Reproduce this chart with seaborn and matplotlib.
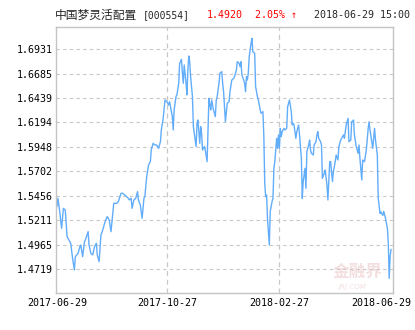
import datetime as dt

import matplotlib.dates as mdates
import matplotlib.pyplot as plt
import pandas as pd
import seaborn as sns
from matplotlib.transforms import ScaledTranslation


# fund NAV: days after 2017-06-29 and the value on that day
start_date = "2017-06-29"
day_offsets = [
    0, 1, 3, 5, 7, 9, 11, 13, 15, 17, 19, 20, 23, 25, 26, 28, 30, 31, 34, 35,
    37, 39, 41, 43, 44, 46, 48, 50, 52, 54, 55, 57, 59, 62, 65, 67, 70, 72, 74, 76,
    78, 79, 81, 82, 84, 86, 88, 89, 91, 93, 95, 96, 98, 100, 102, 103, 105, 107, 109, 111,
    113, 114, 116, 118, 120, 122, 123, 124, 126, 127, 128, 130, 131, 133, 134, 136, 137, 138, 139, 141,
    142, 143, 144, 145, 146, 148, 149, 151, 152, 153, 154, 156, 157, 158, 159, 161, 162, 164, 165, 166,
    167, 168, 169, 171, 173, 174, 175, 177, 178, 180, 181, 182, 183, 184, 186, 188, 189, 191, 193, 194,
    196, 197, 199, 200, 201, 202, 204, 205, 206, 207, 208, 209, 210, 212, 213, 214, 216, 217, 219, 220,
    222, 223, 225, 226, 227, 228, 229, 230, 232, 233, 235, 236, 237, 238, 240, 241, 242, 243, 244, 245,
    246, 248, 249, 251, 252, 254, 256, 257, 258, 259, 261, 262, 264, 265, 267, 268, 269, 271, 272, 273,
    275, 276, 277, 278, 280, 281, 283, 284, 285, 286, 288, 289, 290, 292, 293, 295, 296, 298, 299, 301,
    302, 304, 305, 307, 308, 310, 311, 313, 314, 316, 318, 319, 321, 322, 324, 325, 327, 329, 330, 331,
    333, 334, 336, 338, 340, 341, 342, 344, 345, 347, 348, 350, 351, 353, 354, 356, 357, 359, 361, 362,
    363, 364, 365,
]
nav = [
    1.5348, 1.5432, 1.5298, 1.5130, 1.5331, 1.5314, 1.5047, 1.5013, 1.4980, 1.4829,
    1.4712, 1.4846, 1.4879, 1.4946, 1.4963, 1.4846, 1.4996, 1.5013, 1.5097, 1.4963,
    1.4879, 1.4863, 1.4946, 1.4980, 1.4863, 1.4796, 1.5063, 1.5114, 1.5181, 1.5231,
    1.5248, 1.5214, 1.5097, 1.5381, 1.5381, 1.5398, 1.5482, 1.5482, 1.5465, 1.5448,
    1.5432, 1.5415, 1.5432, 1.5331, 1.5415, 1.5432, 1.5499, 1.5415, 1.5365, 1.5231,
    1.5432, 1.5448, 1.5649, 1.5766, 1.5800, 1.5917, 1.5984, 1.5967, 1.5967, 1.5934,
    1.6000, 1.6118, 1.6235, 1.6419, 1.6402, 1.6369, 1.6402, 1.6352, 1.6252, 1.6118,
    1.6319, 1.6453, 1.6470, 1.6587, 1.6787, 1.6827, 1.6687, 1.6587, 1.6770, 1.6587,
    1.6470, 1.6720, 1.6861, 1.6804, 1.6653, 1.6453, 1.6152, 1.6018, 1.5951, 1.6185,
    1.6219, 1.5984, 1.6152, 1.6085, 1.5917, 1.5951, 1.5917, 1.5800, 1.6118, 1.6436,
    1.6369, 1.6319, 1.6419, 1.6319, 1.6252, 1.6419, 1.6453, 1.6587, 1.6687, 1.6704,
    1.6587, 1.6503, 1.6352, 1.6202, 1.6386, 1.6402, 1.6503, 1.6620, 1.6637, 1.6653,
    1.6720, 1.6804, 1.6787, 1.6754, 1.6804, 1.6670, 1.6620, 1.6587, 1.6503, 1.6653,
    1.6620, 1.6687, 1.6854, 1.6988, 1.7038, 1.6904, 1.6887, 1.6553, 1.6453, 1.6419,
    1.6319, 1.6285, 1.6302, 1.6050, 1.5580, 1.5448, 1.5465, 1.5230, 1.4963, 1.5300,
    1.5400, 1.5432, 1.5733, 1.5800, 1.6034, 1.5934, 1.6068, 1.5934, 1.6134, 1.6051,
    1.6101, 1.6134, 1.6118, 1.6134, 1.6352, 1.6419, 1.6302, 1.6168, 1.6185, 1.6168,
    1.6034, 1.6101, 1.6168, 1.6068, 1.5833, 1.5432, 1.5600, 1.5733, 1.5532, 1.5900,
    1.5967, 1.6017, 1.5917, 1.5883, 1.5867, 1.5967, 1.6000, 1.6068, 1.6101, 1.6034,
    1.6000, 1.5967, 1.5632, 1.5682, 1.5716, 1.5565, 1.5415, 1.5800, 1.5800, 1.5600,
    1.5699, 1.5800, 1.5867, 1.5817, 1.5950, 1.6017, 1.6034, 1.6068, 1.6034, 1.6168,
    1.6235, 1.6001, 1.6017, 1.6201, 1.6218, 1.6068, 1.5950, 1.5883, 1.5967, 1.5833,
    1.5616, 1.5816, 1.5800, 1.5917, 1.6134, 1.6201, 1.6118, 1.6000, 1.5934, 1.6134,
    1.6017, 1.5867, 1.5432, 1.5280, 1.5295, 1.5260, 1.5300, 1.5230, 1.5130, 1.4980,
    1.4629, 1.4850, 1.4920,
]
y_ticks = [1.4719, 1.4965, 1.5211, 1.5456, 1.5702, 1.5948, 1.6194, 1.6439, 1.6685, 1.6931]
x_ticks = ["2017-06-29", "2017-10-27", "2018-02-27", "2018-06-29"]

fund_name = "中国梦灵活配置"
fund_code = "[000554]"
last_nav = "1.4920"
last_change = "2.05% ↑"
update_time = "2018-06-29 15:00"

sns.set_style("white")
plt.rcParams["font.family"] = ["DejaVu Sans Mono", "Noto Sans CJK SC"]

t0 = pd.Timestamp(start_date)
df = pd.DataFrame({
    "date": [t0 + pd.Timedelta(days=d) for d in day_offsets],
    "nav": nav,
})

fig = plt.figure(figsize=(4.15, 3.3), dpi=100)
ax = fig.add_axes([56 / 415, 37.3 / 330, 336.6 / 415, 265.7 / 330])

sns.lineplot(data=df, x="date", y="nav", ax=ax, color="#62adfa", linewidth=1.0)

base = mdates.date2num(t0)
ax.set_xlim(base - 1.1, base + 366.7)
ax.set_ylim(1.4484, 1.7152)

ax.set_yticks(y_ticks)
ax.set_yticklabels([f"{v:.4f}" for v in y_ticks])
ax.set_xticks([mdates.date2num(pd.Timestamp(s)) for s in x_ticks])
ax.set_xticklabels(x_ticks)
ax.tick_params(axis="both", length=0, labelsize=7.2, colors="black")
ax.tick_params(axis="y", pad=2.5)
ax.tick_params(axis="x", pad=4)
ax.set_xlabel("")
ax.set_ylabel("")

# last date label sits a bit left so it stays inside the picture
last_lbl = ax.get_xticklabels()[-1]
last_lbl.set_transform(last_lbl.get_transform() + ScaledTranslation(-0.1, 0, fig.dpi_scale_trans))

for y in y_ticks:
    ax.axhline(y, color="#c8c8c8", linewidth=0.8, linestyle=(0, (3, 3)), zorder=0)
for s in x_ticks[1:3]:
    ax.axvline(mdates.date2num(pd.Timestamp(s)), color="#c8c8c8", linewidth=0.9,
               linestyle=(0, (4, 3)), zorder=0)

for side in ["left", "right", "top", "bottom"]:
    ax.spines[side].set_color("#c4c4c4")
    ax.spines[side].set_linewidth(1.0)

# header
fig.text(55 / 415, 1 - 15 / 330, fund_name, family=["Noto Sans CJK SC"], fontsize=8.5,
         va="center", ha="left")
fig.text(142.5 / 415, 1 - 15 / 330, fund_code, fontsize=7, va="center", ha="left")
fig.text(207 / 415, 1 - 15 / 330, last_nav, fontsize=7.2, color="red", va="center", ha="left")
fig.text(255 / 415, 1 - 15 / 330, last_change, fontsize=7.2, color="red", va="center", ha="left")
fig.text(314 / 415, 1 - 15 / 330, update_time, fontsize=7.2, va="center", ha="left")

# faint watermark
fig.text(358 / 415, 1 - 272 / 330, "金融界", family=["Noto Sans CJK SC"], fontsize=12,
         color="#e6b8b8", alpha=0.45, ha="center", va="center", fontweight="bold")
fig.text(352 / 415, 1 - 287 / 330, "JRJ.COM", family=["DejaVu Sans"], fontsize=5,
         color="#e6b8b8", alpha=0.45, ha="center", va="center", fontstyle="italic")

fig.savefig("out.png", dpi=100)
